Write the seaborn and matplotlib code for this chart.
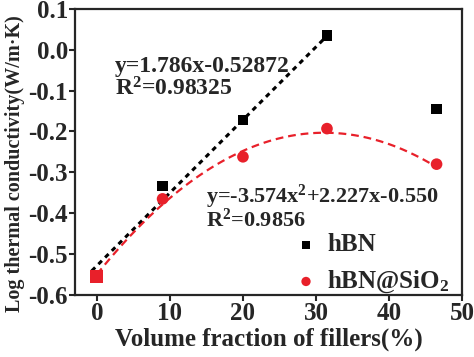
import numpy as np
import pandas as pd
import matplotlib
matplotlib.use('Agg')
import matplotlib.pyplot as plt
import seaborn as sns

# data
vol_frac = [0, 9, 20, 31.5, 46.5]
log_k_hbn = [-0.555, -0.333, -0.172, 0.035, -0.145]
log_k_sio2 = [-0.555, -0.365, -0.262, -0.193, -0.280]

# fit coefficients (x as fraction)
lin_coef = [1.786, -0.52872]
quad_coef = [-3.574, 2.227, -0.550]
lin_range = [-0.007, 0.32]
quad_range = [0.0, 0.465]

sns.set_style('ticks')
plt.rcParams['font.family'] = ['Liberation Serif', 'DejaVu Serif']
plt.rcParams['font.weight'] = 'bold'
plt.rcParams['mathtext.fontset'] = 'custom'
plt.rcParams['mathtext.rm'] = 'Liberation Serif:bold'
plt.rcParams['mathtext.it'] = 'Liberation Serif:bold'
plt.rcParams['mathtext.bf'] = 'Liberation Serif:bold'

red = '#e8202a'

fig = plt.figure(figsize=(4.74, 3.57), dpi=100)
ax = fig.add_axes([0.158, 0.174, 0.817, 0.801])

xl = np.linspace(lin_range[0], lin_range[1], 50)
xq = np.linspace(quad_range[0], quad_range[1], 80)
df_lin = pd.DataFrame({'x': xl * 100, 'y': np.polyval(lin_coef, xl)})
df_quad = pd.DataFrame({'x': xq * 100, 'y': np.polyval(quad_coef, xq)})

sns.lineplot(data=df_lin, x='x', y='y', ax=ax, color='black', lw=2.2, linestyle=(0, (1.6, 1.5)))
sns.lineplot(data=df_quad, x='x', y='y', ax=ax, color=red, lw=1.6, linestyle=(0, (3.5, 2.2)))

df_pts = pd.DataFrame({'x': vol_frac, 'hbn': log_k_hbn, 'sio2': log_k_sio2})
sns.scatterplot(data=df_pts, x='x', y='hbn', ax=ax, marker='s', color='black', s=55,
                edgecolor='none', label='hBN', zorder=3)
sns.scatterplot(data=df_pts.iloc[1:], x='x', y='sio2', ax=ax, marker='o', color=red, s=70,
                edgecolor='none', label='hBN@SiO$_2$', zorder=4)
ax.scatter(vol_frac[0], log_k_sio2[0], marker='s', color=red, s=85, edgecolor='none', zorder=5)

ax.set_xlim(-3, 50)
ax.set_ylim(-0.6, 0.1)
ax.set_xticks([0, 10, 20, 30, 40, 50])
ax.set_yticks(np.arange(-0.6, 0.11, 0.1))
ax.set_yticklabels(['-0.6', '-0.5', '-0.4', '-0.3', '-0.2', '-0.1', '0.0', '0.1'])
ax.tick_params(direction='out', length=4, width=1.5, labelsize=18, pad=1)
for s in ax.spines.values():
    s.set_visible(True)
    s.set_linewidth(1.6)

ax.set_xlabel('Volume fraction of fillers(%)', fontsize=18, fontweight='bold', labelpad=2)
ax.set_ylabel('Log thermal conductivity(W/m·K)', fontsize=14.5, fontweight='bold')
ax.yaxis.set_label_coords(-0.128, 0.46)

ax.text(2.5, -0.054, 'y=1.786x-0.52872', fontsize=17, fontweight='bold', va='baseline')
ax.text(2.5, -0.111, 'R$^2$=0.98325', fontsize=17, fontweight='bold', va='baseline')
ax.text(14.9, -0.374, 'y=-3.574x$^2$+2.227x-0.550', fontsize=16, fontweight='bold', va='baseline')
ax.text(14.9, -0.433, 'R$^2$=0.9856', fontsize=16, fontweight='bold', va='baseline')

ax.legend(loc='lower right', bbox_to_anchor=(1.0, -0.045), frameon=False, fontsize=18,
          handletextpad=0.1, handlelength=1.5, borderaxespad=0.1, labelspacing=0.5,
          markerscale=0.8)

fig.savefig('out.png', dpi=100)
